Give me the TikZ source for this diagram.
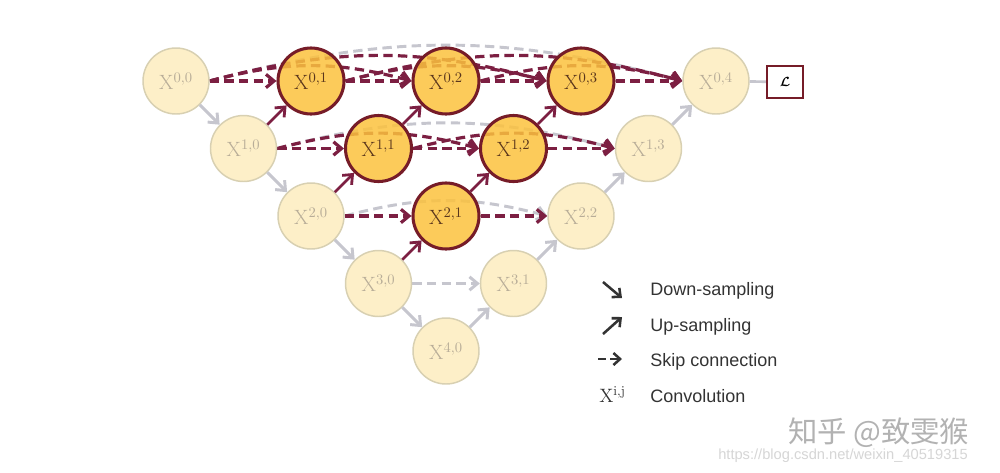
\documentclass[tikz,border=0pt]{standalone}
\usepackage{amsmath}
\usepackage{fontspec}
\newfontfamily\legfont{Liberation Sans}
\newfontfamily\cjk{Noto Sans CJK SC}
\usetikzlibrary{arrows.meta}
\pgfdeclarelayer{back}
\pgfdeclarelayer{bg}
\pgfsetlayers{back,bg,main}
\definecolor{ofill}{HTML}{FCC23E}
\definecolor{oborder}{HTML}{761C28}
\definecolor{otext}{HTML}{5A361C}
\definecolor{lfill}{HTML}{FDEFC8}
\definecolor{lborder}{HTML}{D8D0B2}
\definecolor{ltext}{HTML}{B8AD98}
\definecolor{mar}{HTML}{7C1F42}
\definecolor{grayc}{HTML}{C6C6CE}
\definecolor{legc}{HTML}{333333}
\begin{document}
\begin{tikzpicture}[x=0.75pt,y=-0.75pt,
  lnode/.style={circle, minimum size=49.5pt, inner sep=0pt, fill=lfill, draw=lborder, line width=1.1pt, text=ltext, font=\fontsize{15.5}{17}\selectfont},
  onode/.style={circle, minimum size=49.5pt, inner sep=0pt, fill=ofill, fill opacity=0.85, text opacity=1, draw opacity=1, draw=oborder, line width=2.3pt, text=otext, font=\fontsize{15.5}{17}\selectfont},
  tipm/.style={-{Straight Barb[length=6pt,width=10pt]}},
  skipm/.style={draw=mar, line width=2.4pt, dash pattern=on 7pt off 4pt, tipm},
  skipg/.style={draw=grayc, line width=2.2pt, dash pattern=on 7pt off 4pt, tipm},
  upm/.style={draw=mar, line width=2.1pt, tipm},
  mvg/.style={draw=grayc, line width=2.2pt, tipm},
  lbox/.style={draw=oborder, line width=1.6pt, fill=white, minimum width=27pt, minimum height=24pt, inner sep=0pt},
  legtext/.style={anchor=base west, font=\legfont\fontsize{13.5}{15}\selectfont, text=legc, inner sep=0pt},
  legarrow/.style={draw=legc, line width=1.9pt, -{Straight Barb[length=5pt,width=9pt]}}
]
\begin{pgfonlayer}{back}
\fill[white] (0,0) rectangle (1000,472);
\end{pgfonlayer}
\useasboundingbox (0,0) rectangle (1000,472);

% nodes: x = 176 + 67.5 i + 135 j, y = 81 + 67.5 i
\node[lnode] (n00) at (176,81) {$\mathrm{X}^{0,0}$};
\node[onode] (n01) at (311,81) {$\mathrm{X}^{0,1}$};
\node[onode] (n02) at (446,81) {$\mathrm{X}^{0,2}$};
\node[onode] (n03) at (581,81) {$\mathrm{X}^{0,3}$};
\node[lnode] (n04) at (716,81) {$\mathrm{X}^{0,4}$};
\node[lnode] (n10) at (243.5,148.5) {$\mathrm{X}^{1,0}$};
\node[onode] (n11) at (378.5,148.5) {$\mathrm{X}^{1,1}$};
\node[onode] (n12) at (513.5,148.5) {$\mathrm{X}^{1,2}$};
\node[lnode] (n13) at (648.5,148.5) {$\mathrm{X}^{1,3}$};
\node[lnode] (n20) at (311,216) {$\mathrm{X}^{2,0}$};
\node[onode] (n21) at (446,216) {$\mathrm{X}^{2,1}$};
\node[lnode] (n22) at (581,216) {$\mathrm{X}^{2,2}$};
\node[lnode] (n30) at (378.5,283.5) {$\mathrm{X}^{3,0}$};
\node[lnode] (n31) at (513.5,283.5) {$\mathrm{X}^{3,1}$};
\node[lnode] (n40) at (446,351) {$\mathrm{X}^{4,0}$};

\node[lbox] (loss) at (785,82) {$\boldsymbol{\mathcal{L}}$};

\begin{pgfonlayer}{bg}
% skip connections, row 0
\draw[skipg] (n00.east) to[out=15,in=165] (n04.west);
\draw[skipm] (n00.east) to[out=15,in=165] (n03.west);
\draw[skipm] (n00.east) to[out=15,in=165] (n02.west);
\draw[skipm] (n01.east) to[out=15,in=165] (n04.west);
\draw[skipm] (n01.east) to[out=15,in=165] (n03.west);
\draw[skipm] (n02.east) to[out=15,in=165] (n04.west);
\draw[skipm] (n00) -- (n01);
\draw[skipm] (n01) -- (n02);
\draw[skipm] (n02) -- (n03);
\draw[skipm] (n03) -- (n04);
% row 1
\draw[skipg] (n10.east) to[out=15,in=165] (n13.west);
\draw[skipm] (n10.east) to[out=15,in=165] (n12.west);
\draw[skipm] (n11.east) to[out=15,in=165] (n13.west);
\draw[skipm] (n10) -- (n11);
\draw[skipm] (n11) -- (n12);
\draw[skipm] (n12) -- (n13);
% row 2
\draw[skipg] (n20.east) to[out=15,in=165] (n22.west);
\draw[skipm] (n20) -- (n21);
\draw[skipm] (n21) -- (n22);
% row 3
\draw[skipg] (n30) -- (n31);
\end{pgfonlayer}

% down-sampling
\draw[mvg] (n00) -- (n10);
\draw[mvg] (n10) -- (n20);
\draw[mvg] (n20) -- (n30);
\draw[mvg] (n30) -- (n40);
% up-sampling (grey)
\draw[mvg] (n40) -- (n31);
\draw[mvg] (n31) -- (n22);
\draw[mvg] (n22) -- (n13);
\draw[mvg] (n13) -- (n04);
% up-sampling (maroon)
\draw[upm] (n10) -- (n01);
\draw[upm] (n20) -- (n11);
\draw[upm] (n30) -- (n21);
\draw[upm] (n11) -- (n02);
\draw[upm] (n21) -- (n12);
\draw[upm] (n12) -- (n03);
% loss
\draw[draw=grayc, line width=2pt] (n04) -- (loss);

% legend
\coordinate (d1) at (603,282); \coordinate (d2) at (622,298);
\coordinate (u1) at (603,334); \coordinate (u2) at (622,317);
\coordinate (s1) at (598,359); \coordinate (s2) at (622,359);
\draw[legarrow] (d1) -- (d2);
\draw[legarrow] (u1) -- (u2);
\draw[legarrow, dash pattern=on 6pt off 3pt] (s1) -- (s2);
\node[anchor=base west, inner sep=0pt, text=legc, font=\fontsize{14.5}{16}\selectfont] (lx) at (599,402) {$\mathrm{X}^{\mathrm{i,j}}$};
\node[legtext] (t1) at (650,295) {Down-sampling};
\node[legtext] (t2) at (650,331) {Up-sampling};
\node[legtext] (t3) at (650,366) {Skip connection};
\node[legtext] (t4) at (650,402) {Convolution};

% watermark
\node[anchor=base west, inner sep=0pt, text=black!30, font=\cjk\fontsize{22}{24}\selectfont] (wm) at (788,442) {知乎 @致雯猴};
\node[anchor=base west, inner sep=0pt, text=black!16, font=\legfont\fontsize{11}{12}\selectfont] (url) at (718,459) {https://blog.csdn.net/weixin\_40519315};
\end{tikzpicture}
\end{document}
